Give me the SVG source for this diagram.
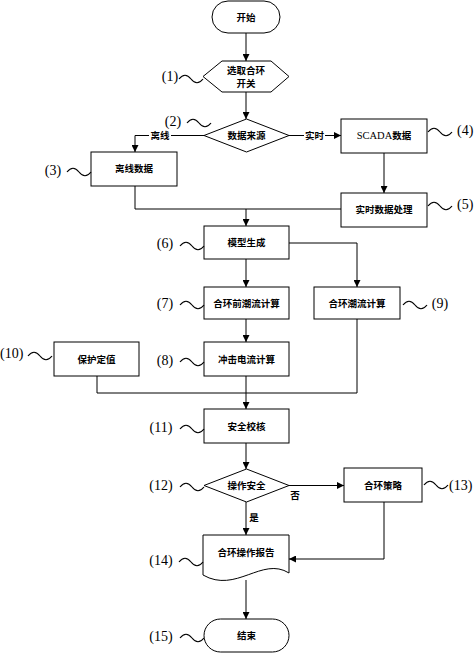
<svg xmlns="http://www.w3.org/2000/svg" width="474" height="653" viewBox="0 0 474 653">
<style>
.n{fill:#fff;stroke:#000;stroke-width:1}
.t{font-family:"Noto Sans CJK SC",sans-serif;font-size:9.5px;font-weight:bold;text-anchor:middle;fill:#000}
.l{font-family:"Liberation Serif",serif;font-size:14px;fill:#000}
.c{fill:none;stroke:#000;stroke-width:1}
.w{fill:none;stroke:#000;stroke-width:1.2}
</style>
<defs>
<marker id="a" viewBox="0 0 10 10" refX="10" refY="5" markerWidth="7" markerHeight="7" orient="auto" markerUnits="userSpaceOnUse">
<path d="M0,0 L10,5 L0,10 Z" fill="#000"/>
</marker>
<path id="wv" d="M0,0 c4,-5 8,-5 12,0 s8,5 12,0" class="w"/>
</defs>
<rect width="474" height="653" fill="#fff"/>
<g id="connectors">
<line class="c" x1="246" y1="33" x2="246" y2="61" marker-end="url(#a)"/>
<line class="c" x1="246" y1="92" x2="246" y2="119" marker-end="url(#a)"/>
<path class="c" d="M204,135.5 H171"/>
<path class="c" d="M149,135.5 H135 V152" marker-end="url(#a)"/>
<path class="c" d="M289,135.5 H304"/>
<path class="c" d="M325,135.5 H341" marker-end="url(#a)"/>
<line class="c" x1="384" y1="153" x2="384" y2="193" marker-end="url(#a)"/>
<path class="c" d="M135,186 V209 H341"/>
<line class="c" x1="246" y1="209" x2="246" y2="226" marker-end="url(#a)"/>
<path class="c" d="M289,243 H357 V287" marker-end="url(#a)"/>
<line class="c" x1="246" y1="259" x2="246" y2="287" marker-end="url(#a)"/>
<line class="c" x1="246" y1="319" x2="246" y2="342" marker-end="url(#a)"/>
<path class="c" d="M97,376 V393 H357 V319"/>
<line class="c" x1="246" y1="376" x2="246" y2="409" marker-end="url(#a)"/>
<line class="c" x1="246" y1="443" x2="246" y2="469" marker-end="url(#a)"/>
<line class="c" x1="289" y1="485.5" x2="344" y2="485.5" marker-end="url(#a)"/>
<path class="c" d="M384,502 V559 H289" marker-end="url(#a)"/>
<line class="c" x1="246" y1="502" x2="246" y2="535" marker-end="url(#a)"/>
<line class="c" x1="246" y1="580" x2="246" y2="619" marker-end="url(#a)"/>
<text class="t" x="160" y="139">离线</text>
<text class="t" x="314.5" y="139">实时</text>
<text class="t" x="295" y="499">否</text>
<text class="t" x="254" y="521">是</text>
</g>
<g id="n0"><rect class="n" x="212" y="1" width="68" height="32" rx="16"/><text class="t" x="246" y="21">开始</text></g>
<g id="n1"><polygon class="n" points="203,76.5 222,61 271,61 289,76.5 271,92 222,92"/><text class="t" x="246" y="74">选取合环</text><text class="t" x="246" y="87">开关</text>
<text class="l" x="170" y="81" text-anchor="middle">(1)</text><use href="#wv" transform="translate(179,79)"/></g>
<g id="n2"><polygon class="n" points="204,135.5 246.5,119 289,135.5 246.5,152"/><text class="t" x="246.5" y="139">数据来源</text>
<text class="l" x="173" y="126" text-anchor="middle">(2)</text><use href="#wv" transform="translate(187,123)"/></g>
<g id="n3"><rect class="n" x="91" y="152" width="86" height="34"/><text class="t" x="134" y="172">离线数据</text>
<text class="l" x="53" y="175" text-anchor="middle">(3)</text><use href="#wv" transform="translate(67,172)"/></g>
<g id="n4"><rect class="n" x="341" y="119" width="86" height="34"/><text class="t" x="384" y="139"><tspan font-family="Liberation Serif" font-weight="normal" font-size="10.5">SCADA</tspan>数据</text>
<text class="l" x="457" y="135">(4)</text><use href="#wv" transform="translate(428,132)"/></g>
<g id="n5"><rect class="n" x="341" y="193" width="86" height="34"/><text class="t" x="384" y="213">实时数据处理</text>
<text class="l" x="457" y="209">(5)</text><use href="#wv" transform="translate(428,206)"/></g>
<g id="n6"><rect class="n" x="204" y="226" width="85" height="33"/><text class="t" x="246.5" y="246">模型生成</text>
<text class="l" x="165" y="248" text-anchor="middle">(6)</text><use href="#wv" transform="translate(180,246)"/></g>
<g id="n7"><rect class="n" x="204" y="287" width="85" height="32"/><text class="t" x="246.5" y="306.5">合环前潮流计算</text>
<text class="l" x="165" y="308" text-anchor="middle">(7)</text><use href="#wv" transform="translate(180,305)"/></g>
<g id="n8"><rect class="n" x="204" y="342" width="85" height="34"/><text class="t" x="246.5" y="362.5">冲击电流计算</text>
<text class="l" x="165" y="365" text-anchor="middle">(8)</text><use href="#wv" transform="translate(180,362)"/></g>
<g id="n9"><rect class="n" x="314" y="287" width="86" height="32"/><text class="t" x="357" y="306.5">合环潮流计算</text>
<text class="l" x="440" y="308" text-anchor="middle">(9)</text><use href="#wv" transform="translate(403,305)"/></g>
<g id="n10"><rect class="n" x="54" y="342" width="85" height="34"/><text class="t" x="96.5" y="362.5">保护定值</text>
<text class="l" x="0" y="358">(10)</text><use href="#wv" transform="translate(28,356)"/></g>
<g id="n11"><rect class="n" x="204" y="409" width="85" height="34"/><text class="t" x="246.5" y="429.5">安全校核</text>
<text class="l" x="161" y="432" text-anchor="middle">(11)</text><use href="#wv" transform="translate(180,429)"/></g>
<g id="n12"><polygon class="n" points="204,485.5 246.5,469 289,485.5 246.5,502"/><text class="t" x="246.5" y="489">操作安全</text>
<text class="l" x="161" y="490" text-anchor="middle">(12)</text><use href="#wv" transform="translate(180,487)"/></g>
<g id="n13"><rect class="n" x="344" y="468" width="78" height="34"/><text class="t" x="383" y="489">合环策略</text>
<text class="l" x="449" y="490">(13)</text><use href="#wv" transform="translate(424,485)"/></g>
<g id="n14"><path class="n" d="M203,535 H289 V573 C262,556 236,594 203,575 Z"/><text class="t" x="246" y="556">合环操作报告</text>
<text class="l" x="161" y="565" text-anchor="middle">(14)</text><use href="#wv" transform="translate(179,562)"/></g>
<g id="n15"><rect class="n" x="204" y="619" width="85" height="33" rx="16.5"/><text class="t" x="246.5" y="639">结束</text>
<text class="l" x="161" y="641" text-anchor="middle">(15)</text><use href="#wv" transform="translate(180,638)"/></g>
</svg>
